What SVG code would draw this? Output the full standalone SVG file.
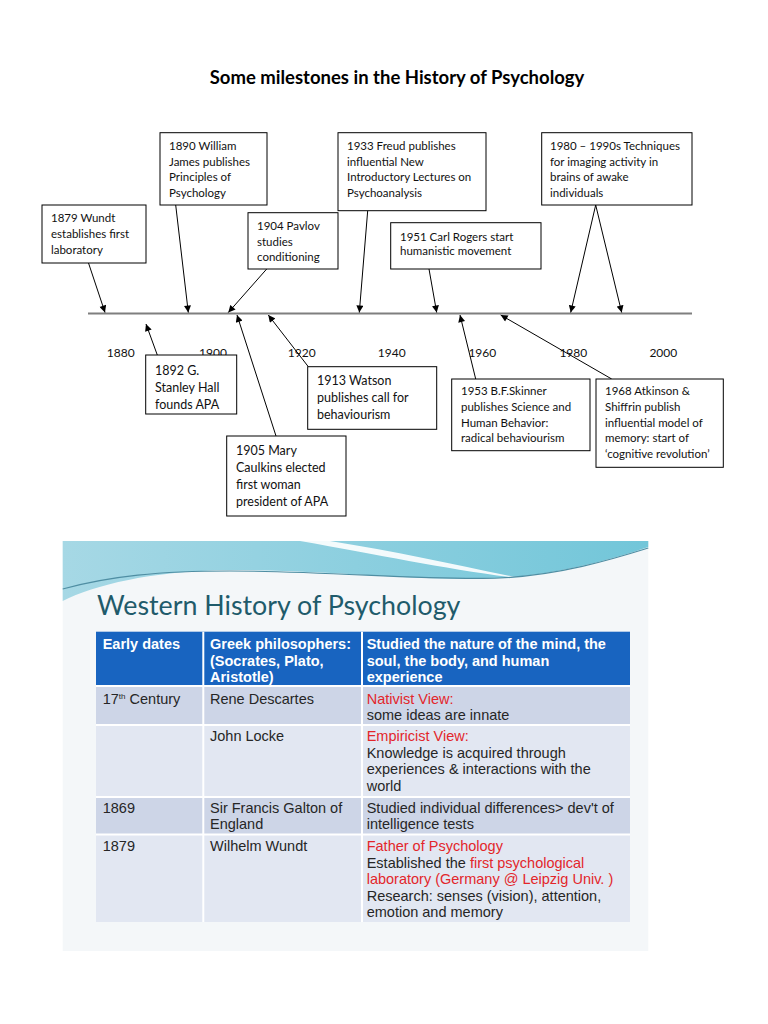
<svg xmlns="http://www.w3.org/2000/svg" width="768" height="1024" viewBox="0 0 768 1024">
<style>
.box{fill:#fff;stroke:#000;stroke-width:1}
.t{font-family:Lato,"Open Sans",sans-serif;font-size:11.5px;fill:#111}
.tl{font-size:12.5px}
.yr{font-family:Lato,"Open Sans",sans-serif;font-size:12px;fill:#111;text-anchor:middle}
.conn line{stroke:#000;stroke-width:1;marker-end:url(#ah)}
.tb{font-family:"Liberation Sans",Arial,sans-serif;font-size:14.5px;fill:#262626}
.hd{font-weight:bold;fill:#fff}
.red{fill:#e3262b}
.grid{stroke:#fff;stroke-width:2}
</style>
<defs>
<marker id="ah" viewBox="0 0 10 10" refX="10" refY="5" markerWidth="8" markerHeight="7" orient="auto" markerUnits="userSpaceOnUse"><path d="M0,0 L10,5 L0,10 z" fill="#000"/></marker>
<linearGradient id="band" x1="0" y1="0" x2="1" y2="0"><stop offset="0" stop-color="#a6d8e5"/><stop offset="1" stop-color="#72c6d9"/></linearGradient>
</defs>
<rect width="768" height="1024" fill="#fff"/>
<text x="397" y="84" text-anchor="middle" style="font-family:Lato,'Open Sans',sans-serif;font-weight:bold;font-size:18.5px;fill:#000">Some milestones in the History of Psychology</text>

<line x1="88" y1="313.5" x2="692" y2="313.5" stroke="#7f7f7f" stroke-width="2"/>
<g id="years">
<text class="yr" x="120.7" y="356.5">1880</text>
<text class="yr" x="213" y="356.5">1900</text>
<text class="yr" x="301.7" y="356.5">1920</text>
<text class="yr" x="391.7" y="356.5">1940</text>
<text class="yr" x="482.3" y="356.5">1960</text>
<text class="yr" x="573.3" y="356.5">1980</text>
<text class="yr" x="663.3" y="356.5">2000</text>
</g>

<g id="connectors" class="conn">
<line x1="88.5" y1="263" x2="105" y2="312.5"/>
<line x1="175.7" y1="205" x2="188.3" y2="312.5"/>
<line x1="266.7" y1="269" x2="228.3" y2="312.5"/>
<line x1="367.7" y1="210.7" x2="359.3" y2="312.5"/>
<line x1="429" y1="269" x2="436.7" y2="312.5"/>
<line x1="595.7" y1="205" x2="570.7" y2="312.5"/>
<line x1="595.7" y1="205" x2="621.7" y2="312.5"/>
<line x1="157.3" y1="355" x2="146" y2="324"/>
<line x1="276" y1="436" x2="237" y2="315"/>
<line x1="308.3" y1="366.7" x2="268.3" y2="315"/>
<line x1="475.7" y1="379" x2="460" y2="315"/>
<line x1="611.7" y1="379" x2="500.7" y2="315"/>
</g>

<g id="n1879">
<rect class="box" x="42" y="205" width="104" height="58"/>
<text class="t" x="51" y="222">1879 Wundt</text>
<text class="t" x="51" y="238">establishes first</text>
<text class="t" x="51" y="254">laboratory</text>
</g>
<g id="n1890">
<rect class="box" x="160" y="132.7" width="107" height="72.3"/>
<text class="t" x="169" y="150">1890 William</text>
<text class="t" x="169" y="165.6">James publishes</text>
<text class="t" x="169" y="181.2">Principles of</text>
<text class="t" x="169" y="196.8">Psychology</text>
</g>
<g id="n1904">
<rect class="box" x="248" y="212.7" width="90" height="56.3"/>
<text class="t" x="257" y="230">1904 Pavlov</text>
<text class="t" x="257" y="245.6">studies</text>
<text class="t" x="257" y="261.2">conditioning</text>
</g>
<g id="n1933">
<rect class="box" x="338" y="132.7" width="148" height="78"/>
<text class="t" x="347" y="150">1933 Freud publishes</text>
<text class="t" x="347" y="165.6">influential New</text>
<text class="t" x="347" y="181.2">Introductory Lectures on</text>
<text class="t" x="347" y="196.8">Psychoanalysis</text>
</g>
<g id="n1951">
<rect class="box" x="390.7" y="222.7" width="150.3" height="46.3"/>
<text class="t" x="400" y="240.5">1951 Carl Rogers start</text>
<text class="t" x="400" y="255">humanistic movement</text>
</g>
<g id="n1980">
<rect class="box" x="541.7" y="132.7" width="150.3" height="72.3"/>
<text class="t" x="550" y="150">1980 – 1990s Techniques</text>
<text class="t" x="550" y="165.6">for imaging activity in</text>
<text class="t" x="550" y="181.2">brains of awake</text>
<text class="t" x="550" y="196.8">individuals</text>
</g>
<g id="n1892">
<rect class="box" x="145.7" y="355" width="91" height="59"/>
<text class="t tl" x="155" y="374.5">1892 G.</text>
<text class="t tl" x="155" y="391.5">Stanley Hall</text>
<text class="t tl" x="155" y="408.5">founds APA</text>
</g>
<g id="n1905">
<rect class="box" x="226.7" y="436" width="119.3" height="80"/>
<text class="t tl" x="236" y="454.5">1905 Mary</text>
<text class="t tl" x="236" y="471.5">Caulkins elected</text>
<text class="t tl" x="236" y="488.5">first woman</text>
<text class="t tl" x="236" y="505.5">president of APA</text>
</g>
<g id="n1913">
<rect class="box" x="307.7" y="366.7" width="129" height="62.6"/>
<text class="t tl" x="317" y="385">1913 Watson</text>
<text class="t tl" x="317" y="402">publishes call for</text>
<text class="t tl" x="317" y="418.5">behaviourism</text>
</g>
<g id="n1953">
<rect class="box" x="451.7" y="379" width="138.3" height="71.7"/>
<text class="t" x="461" y="395">1953 B.F.Skinner</text>
<text class="t" x="461" y="410.8">publishes Science and</text>
<text class="t" x="461" y="426.6">Human Behavior:</text>
<text class="t" x="461" y="442.4">radical behaviourism</text>
</g>
<g id="n1968">
<rect class="box" x="596" y="379" width="127.3" height="88.3"/>
<text class="t" x="605" y="395">1968 Atkinson &amp;</text>
<text class="t" x="605" y="410.8">Shiffrin publish</text>
<text class="t" x="605" y="426.6">influential model of</text>
<text class="t" x="605" y="442.4">memory: start of</text>
<text class="t" x="605" y="458">‘cognitive revolution’</text>
</g>

<g id="slide">
<rect x="62.7" y="541" width="585.6" height="410" fill="#f4f7f9"/>
<path d="M62.7,541 H648.3 V547 C610,560 560,574 500,578 C430,582 330,570 230,570 C150,571 95,585 62.7,601 Z" fill="url(#band)"/>
<path d="M300,541 L330,541 C400,552 460,566 525,579 C450,570 385,556 300,541 Z" fill="#fff" opacity="0.9"/>
<path d="M62.7,589 C110,576 160,571 230,571 C330,571 430,581 500,578 C560,575 610,560 648.3,548" fill="none" stroke="#4f8ea3" stroke-width="1.2"/>
<text x="97" y="615" style="font-family:Lato,'Open Sans',sans-serif;font-size:26.8px;fill:#1f5b6b">Western History of Psychology</text>
</g>

<g id="table">
<rect x="96" y="631.7" width="534" height="54.3" fill="#1864c0"/>
<rect x="96" y="686" width="534" height="39" fill="#cdd5e7"/>
<rect x="96" y="725" width="534" height="72" fill="#e2e7f2"/>
<rect x="96" y="797" width="534" height="37.5" fill="#cdd5e7"/>
<rect x="96" y="834.5" width="534" height="87.5" fill="#e2e7f2"/>
<line class="grid" x1="96" y1="686" x2="630" y2="686"/>
<line class="grid" x1="96" y1="725" x2="630" y2="725"/>
<line class="grid" x1="96" y1="797" x2="630" y2="797"/>
<line class="grid" x1="96" y1="834.5" x2="630" y2="834.5"/>
<line class="grid" x1="203.3" y1="631.7" x2="203.3" y2="922"/>
<line class="grid" x1="362" y1="631.7" x2="362" y2="922"/>

<g id="header">
<text class="tb hd" x="102.7" y="649">Early dates</text>
<text class="tb hd" x="210" y="649">Greek philosophers:</text>
<text class="tb hd" x="210" y="665.5">(Socrates, Plato,</text>
<text class="tb hd" x="210" y="681.5">Aristotle)</text>
<text class="tb hd" x="366.7" y="649">Studied the nature of the mind, the</text>
<text class="tb hd" x="366.7" y="665.5">soul, the body, and human</text>
<text class="tb hd" x="366.7" y="681.5">experience</text>
</g>
<g id="row1">
<text class="tb" x="102.7" y="704">17<tspan font-size="8" dy="-5">th</tspan><tspan dy="5"> Century</tspan></text>
<text class="tb" x="210" y="704">Rene Descartes</text>
<text class="tb red" x="366.7" y="703.5">Nativist View:</text>
<text class="tb" x="366.7" y="720">some ideas are innate</text>
</g>
<g id="row2">
<text class="tb" x="210" y="741">John Locke</text>
<text class="tb red" x="366.7" y="741">Empiricist View:</text>
<text class="tb" x="366.7" y="757.5">Knowledge is acquired through</text>
<text class="tb" x="366.7" y="774">experiences &amp; interactions with the</text>
<text class="tb" x="366.7" y="790.5">world</text>
</g>
<g id="row3">
<text class="tb" x="102.7" y="812.5">1869</text>
<text class="tb" x="210" y="812.5">Sir Francis Galton of</text>
<text class="tb" x="210" y="829">England</text>
<text class="tb" x="366.7" y="812.5">Studied individual differences&gt; dev't of</text>
<text class="tb" x="366.7" y="829">intelligence tests</text>
</g>
<g id="row4">
<text class="tb" x="102.7" y="851">1879</text>
<text class="tb" x="210" y="851">Wilhelm Wundt</text>
<text class="tb red" x="366.7" y="851">Father of Psychology</text>
<text class="tb" x="366.7" y="867.5">Established the <tspan class="red">first psychological</tspan></text>
<text class="tb red" x="366.7" y="884">laboratory (Germany @ Leipzig Univ. )</text>
<text class="tb" x="366.7" y="900.5">Research: senses (vision), attention,</text>
<text class="tb" x="366.7" y="917">emotion and memory</text>
</g>
</g>
</svg>
